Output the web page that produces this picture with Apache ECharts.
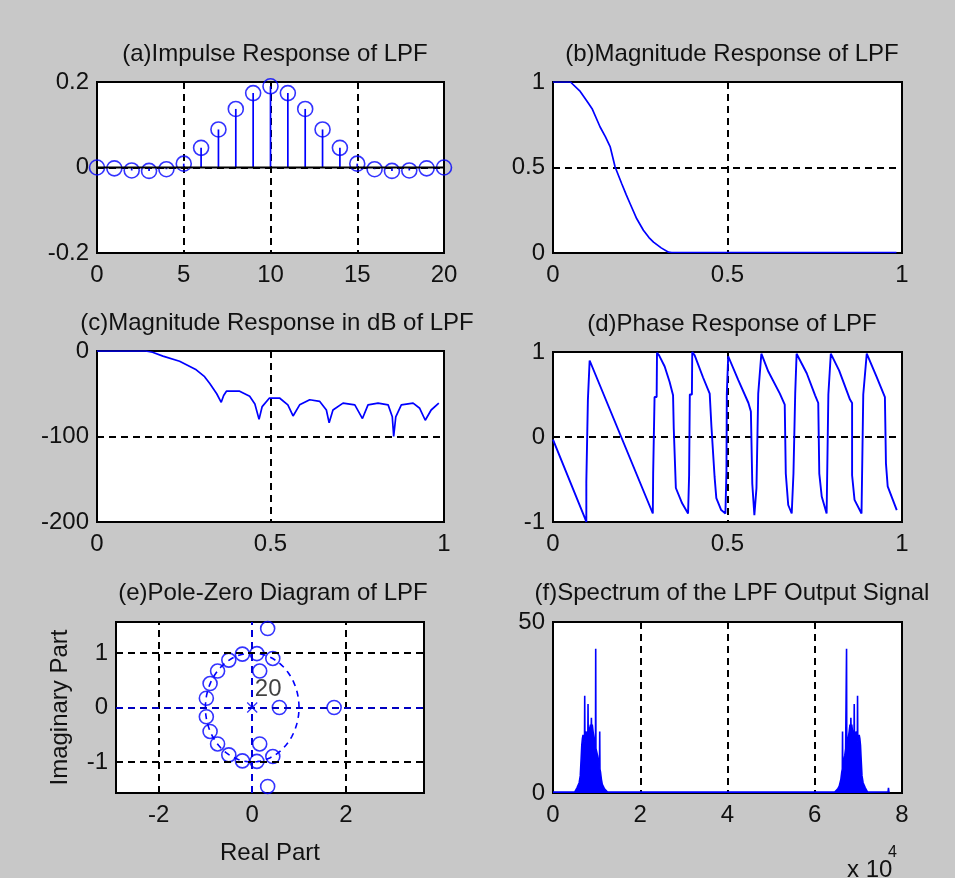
<!DOCTYPE html>
<html>
<head>
<meta charset="utf-8">
<script src="https://cdn.jsdelivr.net/npm/echarts@6/dist/echarts.min.js"></script>
<style>
  html, body { margin: 0; padding: 0; background: #c8c8c8; }
  #main { width: 955px; height: 882px; }
</style>
</head>
<body>
<div id="main"></div>
<script>
// (a) impulse response h(n)
var impulseN = [0, 1, 2, 3, 4, 5, 6, 7, 8, 9, 10, 11, 12, 13, 14, 15, 16, 17, 18, 19, 20];
var impulseH = [0, -0.002, -0.007, -0.008, -0.004, 0.009, 0.046, 0.089, 0.137, 0.174, 0.19,
                0.174, 0.137, 0.089, 0.046, 0.009, -0.004, -0.008, -0.007, -0.002, 0];

// (b) magnitude response
var magW = [0, 0.05, 0.078, 0.1, 0.112, 0.135, 0.15, 0.164, 0.178, 0.197, 0.21, 0.221, 0.24, 0.259, 0.275, 0.288, 0.31, 0.331, 0.34, 0.984];
var magV = [1, 1, 0.945, 0.88, 0.844, 0.737, 0.68, 0.62, 0.503, 0.405, 0.34, 0.288, 0.2, 0.133, 0.09, 0.064, 0.03, 0.005, 0.003, 0.003];

// (c) magnitude in dB
var dbW = [0, 0.14, 0.16, 0.19, 0.238, 0.286, 0.31, 0.325, 0.345, 0.358, 0.365, 0.373, 0.411, 0.44, 0.455, 0.467, 0.476,
           0.497, 0.526, 0.55, 0.565, 0.584, 0.613, 0.642, 0.661, 0.669, 0.68, 0.709, 0.743, 0.765, 0.781,
           0.81, 0.839, 0.851, 0.855, 0.861, 0.877, 0.911, 0.93, 0.946, 0.963, 0.985];
var dbV = [0, 0, -1.5, -6, -12, -22, -30, -38, -50, -60, -52, -47, -47, -53, -62, -80, -65,
           -55, -55, -63, -76, -63, -57, -59, -69, -84, -69, -61, -63, -79, -63,
           -61, -63, -77, -100, -77, -63, -61, -67, -81, -69, -61];

// (d) phase response
var phW = [0, 0.092, 0.0955, 0.0955, 0.1, 0.1, 0.105, 0.105, 0.11, 0.286, 0.287, 0.291, 0.291, 0.297, 0.298,
           0.304, 0.32, 0.334, 0.344, 0.346, 0.352, 0.37, 0.387, 0.39, 0.392, 0.398, 0.399,
           0.406, 0.43, 0.449, 0.454, 0.463, 0.468, 0.482, 0.494, 0.497, 0.498, 0.502,
           0.531, 0.56, 0.567, 0.571, 0.577, 0.583, 0.588, 0.593, 0.597,
           0.617, 0.65, 0.664, 0.667, 0.674, 0.684, 0.689, 0.694, 0.698,
           0.727, 0.751, 0.76, 0.763, 0.77, 0.784, 0.789, 0.793, 0.796,
           0.82, 0.851, 0.857, 0.857, 0.864, 0.884, 0.889, 0.894, 0.899,
           0.927, 0.951, 0.954, 0.959, 0.985];
var phV = [-0.03, -0.96, -1, -0.53, -0.53, 0.44, 0.44, 0.9, 0.89, -0.9, -0.43, -0.43, 0.47, 0.47, 0.99,
           0.96, 0.83, 0.65, 0.49, 0.1, -0.6, -0.78, -0.9, -0.45, 0.5, 0.5, 1,
           0.96, 0.7, 0.51, 0.12, -0.47, -0.72, -0.86, -0.9, -0.4, 0.5, 0.95,
           0.67, 0.4, 0.3, -0.55, -0.92, -0.6, 0.51, 0.51, 0.98,
           0.77, 0.51, 0.38, -0.43, -0.8, -0.9, -0.43, 0.51, 0.98,
           0.75, 0.49, 0.4, -0.43, -0.7, -0.9, 0.5, 0.5, 0.98,
           0.78, 0.44, 0.4, -0.45, -0.74, -0.9, 0.5, 0.5, 0.98,
           0.71, 0.47, -0.31, -0.58, -0.86];

// (e) zeros and pole
var zeroRe = [0.44, 0.10, -0.21, -0.50, -0.74, -0.90, -0.98, 0.44, 0.10, -0.21, -0.50, -0.74, -0.90, -0.98,
              0.33, 0.33, 0.16, 0.16, 0.58, 1.75];
var zeroIm = [0.90, 0.99, 0.98, 0.87, 0.67, 0.44, 0.17, -0.90, -0.99, -0.98, -0.87, -0.67, -0.44, -0.17,
              1.45, -1.45, 0.67, -0.67, 0, 0];
var poleRe = [0];
var poleIm = [0];
var poleOrder = '20';

// (f) spectrum, frequency in units of 1e4
var specF = [0, 0.5, 0.55, 0.6, 0.625, 0.645, 0.66, 0.675, 0.689, 0.71, 0.722, 0.727, 0.732, 0.75, 0.76, 0.765, 0.77,
             0.79, 0.798, 0.803, 0.808, 0.825, 0.842, 0.86, 0.875, 0.88, 0.885, 0.9, 0.918, 0.94, 0.96, 0.974,
             0.979, 0.984, 1.0, 1.02, 1.033, 1.05, 1.066, 1.071, 1.076, 1.09, 1.109, 1.13, 1.147, 1.18, 1.21, 1.25,
             6.458, 6.498, 6.528, 6.561, 6.578, 6.599, 6.618, 6.632, 6.637, 6.642, 6.658, 6.675, 6.688, 6.708,
             6.724, 6.729, 6.734, 6.748, 6.768, 6.79, 6.808, 6.823, 6.828, 6.833, 6.848, 6.866, 6.883, 6.9,
             6.905, 6.91, 6.918, 6.938, 6.943, 6.948, 6.958, 6.976, 6.981, 6.986, 6.998, 7.018, 7.033, 7.048,
             7.063, 7.083, 7.108, 7.158, 7.208, 7.68, 7.69, 7.70, 7.72];
var specM = [0.3, 0.3, 1.5, 3, 5, 10, 14, 16, 17, 16, 15, 28.4, 15, 18, 17, 18, 16,
             17, 16, 26, 16, 18, 18, 20, 19, 22, 19, 20, 18, 16, 15, 13,
             42.2, 13, 13, 11, 10, 9, 8, 18, 7, 6, 4, 2.5, 2, 1.2, 0.8, 0.3,
             0.3, 0.8, 1.2, 2, 2.5, 4, 6, 7, 18, 8, 9, 10, 11, 13,
             13, 42.2, 13, 15, 16, 18, 20, 19, 22, 19, 20, 18, 18, 16,
             26, 16, 17, 16, 18, 17, 18, 15, 28.4, 15, 16, 17, 16, 14,
             10, 5, 3, 1.5, 0.3, 0.3, 1.5, 0.3, 0.3];

function pairs(xs, ys) {
    var out = [];
    for (var i = 0; i < xs.length; i++) out.push([xs[i], ys[i]]);
    return out;
}

var FONT = 'Liberation Sans, Arial, sans-serif';
var BLUE = '#0000ff';
var txt = { color: '#111', fontSize: 24, fontFamily: FONT };
var dash = { color: '#000', type: [7, 5], width: 2 };

var chart = echarts.init(document.getElementById('main'));

var grids = [
    { left: 97, top: 82, width: 347, height: 171 },
    { left: 553, top: 82, width: 349, height: 171 },
    { left: 97, top: 351, width: 347, height: 171 },
    { left: 553, top: 352, width: 349, height: 170 },
    { left: 116, top: 622, width: 308, height: 171 },
    { left: 553, top: 622, width: 349, height: 171 }
];
grids.forEach(function (g) {
    g.show = true;
    g.backgroundColor = '#fff';
    g.borderColor = '#000';
    g.borderWidth = 2;
    g.containLabel = false;
});

function xAx(i, min, max, interval, extra) {
    var a = {
        gridIndex: i, type: 'value', min: min, max: max, interval: interval,
        axisLine: { show: false }, axisTick: { show: false },
        axisLabel: Object.assign({ margin: 10 }, txt),
        splitLine: { show: true, lineStyle: dash }
    };
    return Object.assign(a, extra || {});
}
function yAx(i, min, max, interval, extra) {
    var a = {
        gridIndex: i, type: 'value', min: min, max: max, interval: interval,
        axisLine: { show: false }, axisTick: { show: false },
        axisLabel: Object.assign({ margin: 8 }, txt),
        splitLine: { show: true, lineStyle: dash }
    };
    return Object.assign(a, extra || {});
}

var titles = [
    ['(a)Impulse Response of LPF', 270, 37],
    ['(b)Magnitude Response of LPF', 727, 37],
    ['(c)Magnitude Response in dB of LPF', 272, 306],
    ['(d)Phase Response of LPF', 727, 307],
    ['(e)Pole-Zero Diagram of LPF', 268, 576],
    ['(f)Spectrum of the LPF Output Signal', 727, 576]
].map(function (t) {
    return { text: t[0], left: t[1], top: t[2], textAlign: 'center', textStyle: Object.assign({ fontWeight: 'normal' }, txt) };
});

var option = {
    backgroundColor: '#c8c8c8',
    animation: false,
    title: titles,
    grid: grids,
    xAxis: [
        xAx(0, 0, 20, 5),
        xAx(1, 0, 1, 0.5),
        xAx(2, 0, 1, 0.5),
        xAx(3, 0, 1, 0.5),
        xAx(4, -2.91, 3.67, null, {
            splitLine: { show: false },
            axisLabel: Object.assign({ margin: 10, customValues: [-2, 0, 2] }, txt),
            name: 'Real Part', nameLocation: 'middle', nameGap: 48, nameTextStyle: txt
        }),
        xAx(5, 0, 8, 2)
    ],
    yAxis: [
        yAx(0, -0.2, 0.2, 0.2),
        yAx(1, 0, 1, 0.5),
        yAx(2, -200, 0, 100),
        yAx(3, -1, 1, 1),
        yAx(4, -1.57, 1.57, null, {
            splitLine: { show: false },
            axisLabel: Object.assign({ margin: 8, customValues: [-1, 0, 1] }, txt),
            name: 'Imaginary Part', nameLocation: 'middle', nameGap: 44, nameTextStyle: txt
        }),
        yAx(5, 0, 50, 50)
    ],
    series: [
        // (a) stem plot
        {
            type: 'line', xAxisIndex: 0, yAxisIndex: 0, symbol: 'none', silent: true,
            lineStyle: { color: '#000', width: 2 },
            data: [[impulseN[0], 0], [impulseN[impulseN.length - 1], 0]]
        },
        {
            type: 'custom', xAxisIndex: 0, yAxisIndex: 0, silent: true,
            data: pairs(impulseN, impulseH),
            renderItem: function (params, api) {
                var p0 = api.coord([api.value(0), 0]);
                var p1 = api.coord([api.value(0), api.value(1)]);
                return {
                    type: 'line',
                    shape: { x1: p0[0], y1: p0[1], x2: p1[0], y2: p1[1] },
                    style: { stroke: BLUE, lineWidth: 1.7 }
                };
            }
        },
        {
            type: 'scatter', xAxisIndex: 0, yAxisIndex: 0, symbol: 'circle', symbolSize: 15,
            itemStyle: { color: 'transparent', borderColor: BLUE, borderWidth: 1.6 },
            data: pairs(impulseN, impulseH)
        },
        // (b)
        {
            type: 'line', xAxisIndex: 1, yAxisIndex: 1, symbol: 'none',
            lineStyle: { color: BLUE, width: 1.7 },
            data: pairs(magW, magV)
        },
        // (c)
        {
            type: 'line', xAxisIndex: 2, yAxisIndex: 2, symbol: 'none',
            lineStyle: { color: BLUE, width: 1.7 },
            data: pairs(dbW, dbV)
        },
        // (d)
        {
            type: 'line', xAxisIndex: 3, yAxisIndex: 3, symbol: 'none',
            lineStyle: { color: BLUE, width: 1.9 },
            data: pairs(phW, phV)
        },
        // (e) grid lines, unit circle, zeros, pole
        {
            type: 'line', xAxisIndex: 4, yAxisIndex: 4, data: [], silent: true,
            markLine: {
                symbol: 'none', silent: true, label: { show: false },
                lineStyle: dash,
                data: [
                    { xAxis: -2 }, { xAxis: 0 }, { xAxis: 2 },
                    { yAxis: -1 }, { yAxis: 0 }, { yAxis: 1 },
                    { xAxis: 0, lineStyle: { color: BLUE, type: [7, 5], width: 1.7 } },
                    { yAxis: 0, lineStyle: { color: BLUE, type: [7, 5], width: 1.7 } }
                ]
            }
        },
        {
            type: 'custom', xAxisIndex: 4, yAxisIndex: 4, silent: true,
            data: [[0, 0]],
            renderItem: function (params, api) {
                var pts = [];
                for (var i = 0; i <= 90; i++) {
                    var t = i / 90 * 2 * Math.PI;
                    pts.push(api.coord([Math.cos(t), Math.sin(t)]));
                }
                return {
                    type: 'polyline',
                    shape: { points: pts },
                    style: { stroke: BLUE, fill: null, lineWidth: 1.6, lineDash: [6, 5] }
                };
            }
        },
        {
            type: 'scatter', xAxisIndex: 4, yAxisIndex: 4, symbol: 'circle', symbolSize: 14,
            itemStyle: { color: 'transparent', borderColor: BLUE, borderWidth: 1.6 },
            data: pairs(zeroRe, zeroIm)
        },
        {
            type: 'scatter', xAxisIndex: 4, yAxisIndex: 4,
            symbol: 'path://M0,0L10,10M10,0L0,10', symbolSize: 10,
            itemStyle: { color: 'transparent', borderColor: BLUE, borderWidth: 1.3 },
            label: { show: true, formatter: poleOrder, position: 'inside', offset: [16, -18], color: '#111', fontSize: 24, fontFamily: FONT },
            data: pairs(poleRe, poleIm)
        },
        // (f)
        {
            type: 'line', xAxisIndex: 5, yAxisIndex: 5, symbol: 'none',
            lineStyle: { color: BLUE, width: 1.6 },
            areaStyle: { color: BLUE, opacity: 1 },
            data: pairs(specF, specM)
        }
    ],
    graphic: [
        { type: 'text', left: 847, top: 858, style: { text: 'x 10', fill: '#111', font: '24px ' + FONT } },
        { type: 'text', left: 888, top: 845, style: { text: '4', fill: '#111', font: '16px ' + FONT } },
        { type: 'rect', left: 0, top: 878, shape: { width: 955, height: 4 }, style: { fill: '#fff' } }
    ]
};

chart.setOption(option);
</script>
</body>
</html>
